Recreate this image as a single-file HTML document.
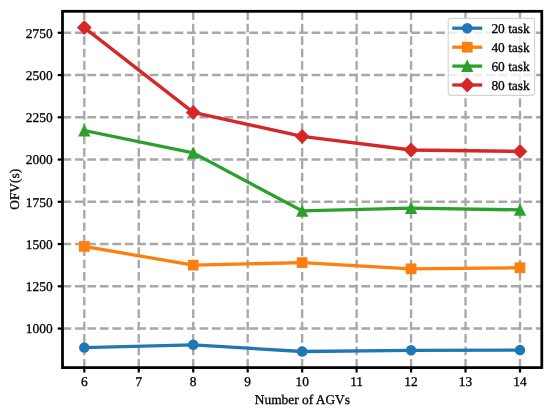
<!DOCTYPE html>
<html lang="en"><head><meta charset="utf-8"><title>OFV vs Number of AGVs</title>
<style>html,body{margin:0;padding:0;background:#fff;}body{width:550px;height:414px;overflow:hidden;}svg{display:block;}text{font-family:"Liberation Serif","Times New Roman",serif;font-size:13.4px;text-rendering:geometricPrecision;fill:#000;stroke:#000;stroke-width:0.3px;}</style></head><body>
<svg width="550" height="414" viewBox="0 0 550 414">
<rect width="550" height="414" fill="#fff"/>
<g stroke="#a8a8a8" stroke-width="2.36" stroke-dasharray="8.66 3.75" fill="none">
<line x1="84.30" y1="367.6" x2="84.30" y2="11.3"/>
<line x1="138.76" y1="367.6" x2="138.76" y2="11.3"/>
<line x1="193.22" y1="367.6" x2="193.22" y2="11.3"/>
<line x1="247.69" y1="367.6" x2="247.69" y2="11.3"/>
<line x1="302.15" y1="367.6" x2="302.15" y2="11.3"/>
<line x1="356.61" y1="367.6" x2="356.61" y2="11.3"/>
<line x1="411.07" y1="367.6" x2="411.07" y2="11.3"/>
<line x1="465.54" y1="367.6" x2="465.54" y2="11.3"/>
<line x1="520.00" y1="367.6" x2="520.00" y2="11.3"/>
<line x1="62.5" y1="32.80" x2="541.8" y2="32.80" stroke-dasharray="8.69 3.766"/>
<line x1="62.5" y1="75.05" x2="541.8" y2="75.05" stroke-dasharray="8.69 3.766"/>
<line x1="62.5" y1="117.30" x2="541.8" y2="117.30" stroke-dasharray="8.69 3.766"/>
<line x1="62.5" y1="159.55" x2="541.8" y2="159.55" stroke-dasharray="8.69 3.766"/>
<line x1="62.5" y1="201.80" x2="541.8" y2="201.80" stroke-dasharray="8.69 3.766"/>
<line x1="62.5" y1="244.05" x2="541.8" y2="244.05" stroke-dasharray="8.69 3.766"/>
<line x1="62.5" y1="286.30" x2="541.8" y2="286.30" stroke-dasharray="8.69 3.766"/>
<line x1="62.5" y1="328.55" x2="541.8" y2="328.55" stroke-dasharray="8.69 3.766"/>
</g>
<g stroke="#000" stroke-width="2.2">
<line x1="84.30" y1="367.6" x2="84.30" y2="372.5"/>
<line x1="138.76" y1="367.6" x2="138.76" y2="372.5"/>
<line x1="193.22" y1="367.6" x2="193.22" y2="372.5"/>
<line x1="247.69" y1="367.6" x2="247.69" y2="372.5"/>
<line x1="302.15" y1="367.6" x2="302.15" y2="372.5"/>
<line x1="356.61" y1="367.6" x2="356.61" y2="372.5"/>
<line x1="411.07" y1="367.6" x2="411.07" y2="372.5"/>
<line x1="465.54" y1="367.6" x2="465.54" y2="372.5"/>
<line x1="520.00" y1="367.6" x2="520.00" y2="372.5"/>
<line x1="62.5" y1="32.80" x2="57.7" y2="32.80"/>
<line x1="62.5" y1="75.05" x2="57.7" y2="75.05"/>
<line x1="62.5" y1="117.30" x2="57.7" y2="117.30"/>
<line x1="62.5" y1="159.55" x2="57.7" y2="159.55"/>
<line x1="62.5" y1="201.80" x2="57.7" y2="201.80"/>
<line x1="62.5" y1="244.05" x2="57.7" y2="244.05"/>
<line x1="62.5" y1="286.30" x2="57.7" y2="286.30"/>
<line x1="62.5" y1="328.55" x2="57.7" y2="328.55"/>
</g>
<polyline points="84.30,347.60 193.22,344.80 302.15,351.50 411.07,350.30 520.00,350.10" fill="none" stroke="#1f77b4" stroke-width="3.3" stroke-linejoin="round" stroke-linecap="square"/>
<circle cx="84.30" cy="347.60" r="5.25" fill="#1f77b4"/>
<circle cx="193.22" cy="344.80" r="5.25" fill="#1f77b4"/>
<circle cx="302.15" cy="351.50" r="5.25" fill="#1f77b4"/>
<circle cx="411.07" cy="350.30" r="5.25" fill="#1f77b4"/>
<circle cx="520.00" cy="350.10" r="5.25" fill="#1f77b4"/>
<polyline points="84.30,246.40 193.22,265.20 302.15,262.60 411.07,268.80 520.00,267.70" fill="none" stroke="#ff7f0e" stroke-width="3.3" stroke-linejoin="round" stroke-linecap="square"/>
<rect x="78.95" y="241.05" width="10.70" height="10.70" fill="#ff7f0e"/>
<rect x="187.88" y="259.85" width="10.70" height="10.70" fill="#ff7f0e"/>
<rect x="296.80" y="257.25" width="10.70" height="10.70" fill="#ff7f0e"/>
<rect x="405.72" y="263.45" width="10.70" height="10.70" fill="#ff7f0e"/>
<rect x="514.65" y="262.35" width="10.70" height="10.70" fill="#ff7f0e"/>
<polyline points="84.30,130.50 193.22,152.90 302.15,210.90 411.07,208.10 520.00,209.90" fill="none" stroke="#2ca02c" stroke-width="3.3" stroke-linejoin="round" stroke-linecap="square"/>
<polygon points="84.30,124.00 78.15,136.40 90.45,136.40" fill="#2ca02c"/>
<polygon points="193.22,146.40 187.07,158.80 199.38,158.80" fill="#2ca02c"/>
<polygon points="302.15,204.40 296.00,216.80 308.30,216.80" fill="#2ca02c"/>
<polygon points="411.07,201.60 404.93,214.00 417.22,214.00" fill="#2ca02c"/>
<polygon points="520.00,203.40 513.85,215.80 526.15,215.80" fill="#2ca02c"/>
<polyline points="84.30,27.60 193.22,112.40 302.15,136.40 411.07,150.00 520.00,151.40" fill="none" stroke="#d62728" stroke-width="3.3" stroke-linejoin="round" stroke-linecap="square"/>
<polygon points="84.30,20.20 91.70,27.60 84.30,35.00 76.90,27.60" fill="#d62728"/>
<polygon points="193.22,105.00 200.62,112.40 193.22,119.80 185.82,112.40" fill="#d62728"/>
<polygon points="302.15,129.00 309.55,136.40 302.15,143.80 294.75,136.40" fill="#d62728"/>
<polygon points="411.07,142.60 418.47,150.00 411.07,157.40 403.68,150.00" fill="#d62728"/>
<polygon points="520.00,144.00 527.40,151.40 520.00,158.80 512.60,151.40" fill="#d62728"/>
<rect x="62.5" y="11.3" width="479.30" height="356.30" fill="none" stroke="#000" stroke-width="2.75"/>
<text x="84.30" y="386.2" text-anchor="middle">6</text>
<text x="138.76" y="386.2" text-anchor="middle">7</text>
<text x="193.22" y="386.2" text-anchor="middle">8</text>
<text x="247.69" y="386.2" text-anchor="middle">9</text>
<text x="302.15" y="386.2" text-anchor="middle">10</text>
<text x="356.61" y="386.2" text-anchor="middle">11</text>
<text x="411.07" y="386.2" text-anchor="middle">12</text>
<text x="465.54" y="386.2" text-anchor="middle">13</text>
<text x="520.00" y="386.2" text-anchor="middle">14</text>
<text x="52.6" y="37.60" text-anchor="end">2750</text>
<text x="52.6" y="79.85" text-anchor="end">2500</text>
<text x="52.6" y="122.10" text-anchor="end">2250</text>
<text x="52.6" y="164.35" text-anchor="end">2000</text>
<text x="52.6" y="206.60" text-anchor="end">1750</text>
<text x="52.6" y="248.85" text-anchor="end">1500</text>
<text x="52.6" y="291.10" text-anchor="end">1250</text>
<text x="52.6" y="333.35" text-anchor="end">1000</text>
<text x="302.4" y="404" text-anchor="middle">Number of AGVs</text>
<text transform="translate(18.5,189.3) rotate(-90)" text-anchor="middle">OFV(s)</text>
<rect x="448.2" y="18.4" width="86.4" height="77" rx="2.6" ry="2.6" fill="#fff" fill-opacity="0.8" stroke="#d4d4d4" stroke-width="1.1"/>
<line x1="452.3" y1="28.2" x2="482.2" y2="28.2" stroke="#1f77b4" stroke-width="3.3"/>
<circle cx="467.25" cy="28.20" r="5.25" fill="#1f77b4"/>
<text x="491.4" y="32.70">20 task</text>
<line x1="452.3" y1="47.2" x2="482.2" y2="47.2" stroke="#ff7f0e" stroke-width="3.3"/>
<rect x="461.90" y="41.85" width="10.70" height="10.70" fill="#ff7f0e"/>
<text x="491.4" y="51.70">40 task</text>
<line x1="452.3" y1="66.1" x2="482.2" y2="66.1" stroke="#2ca02c" stroke-width="3.3"/>
<polygon points="467.25,59.60 461.10,72.00 473.40,72.00" fill="#2ca02c"/>
<text x="491.4" y="70.60">60 task</text>
<line x1="452.3" y1="85.0" x2="482.2" y2="85.0" stroke="#d62728" stroke-width="3.3"/>
<polygon points="467.25,77.60 474.65,85.00 467.25,92.40 459.85,85.00" fill="#d62728"/>
<text x="491.4" y="89.50">80 task</text>
</svg></body></html>
